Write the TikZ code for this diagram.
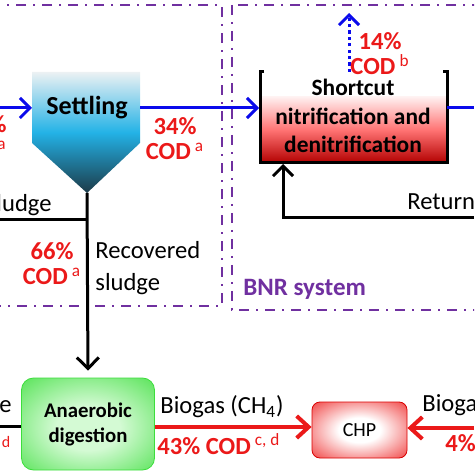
\documentclass[tikz,border=0pt]{standalone}
\usepackage{fontspec}
\setmainfont{Carlito}
\usetikzlibrary{arrows.meta,positioning}
\definecolor{violetbnr}{RGB}{112,48,160}
\definecolor{bleuflux}{RGB}{10,10,235}
\definecolor{rougecod}{RGB}{235,25,25}
\definecolor{vertad}{RGB}{60,222,60}
\definecolor{vertclair}{RGB}{212,250,212}
\definecolor{rougechp}{RGB}{238,38,38}
\definecolor{decantop}{RGB}{236,241,243}
\definecolor{decanmid}{RGB}{35,178,230}
\definecolor{decanbas}{RGB}{28,58,72}
\pgfdeclareradialshading{lueurvert}{\pgfpoint{0bp}{-3bp}}{color(0bp)=(vertclair); color(12bp)=(vertclair); color(42bp)=(vertad); color(50bp)=(vertad)}
\pgfdeclareradialshading{lueurrouge}{\pgfpoint{0bp}{0bp}}{color(0bp)=(white); color(11bp)=(white); color(40bp)=(rougechp); color(50bp)=(rougechp)}

\begin{document}
\begin{tikzpicture}[x=0.5pt,y=-0.5pt,
	flux/.style={bleuflux,line width=1.5pt,-{Straight Barb[length=5pt,width=10pt]}},
	boue/.style={black,line width=1.5pt},
	gaz/.style={rougecod,line width=2pt,-{Straight Barb[length=6pt,width=11pt]}},
	zone/.style={violetbnr,line width=1pt,dash pattern=on 5pt off 3.5pt on 1pt off 3.5pt},
	cod/.style={rougecod,font=\fontsize{12.3}{12.5}\selectfont\bfseries,align=center,inner sep=1pt},
	txt/.style={font=\fontsize{12.3}{16}\selectfont,align=left,inner sep=1pt}]
	\useasboundingbox (0,0) rectangle (474,474);
	\clip (0,0) rectangle (474,474);
	
	% zones
	\draw[zone] (-20,5) rectangle (222,306);
	\draw[zone] (232,5) rectangle (494,310);
	\node[violetbnr,font=\fontsize{12.5}{14}\selectfont\bfseries,anchor=west,inner sep=1pt] (bnr) at (241,289) {BNR system};
	
	% decanteur
	\shade[top color=decantop,bottom color=decanbas,middle color=decanmid]
	(32,72) -- (140,72) -- (140,143) -- (87,193) -- (32,143) -- cycle;
	\node[font=\fontsize{13}{15}\selectfont\bfseries] (settle) at (87,108) {Settling};
	\coordinate (settleW) at (32,108);
	\coordinate (settleE) at (140,108);
	\coordinate (settleS) at (87,193);
	
	% reacteur
	\shade[top color=red!6,bottom color=red!70!black,middle color=red!55] (260,97) rectangle (447,163);
	\draw[boue] (264,72) -- (260,72) -- (260,163) -- (447,163) -- (447,72) -- (443,72);
	\node[font=\fontsize{11.7}{14.25}\selectfont\bfseries,align=center] (tank) at (353,116)
	{Shortcut\\nitrification and\\denitrification};
	\coordinate (tankW) at (259,108);
	\coordinate (tankE) at (447,108);
	\coordinate (tankN) at (349,72);
	\coordinate (tankS) at (283,164);
	
	% digesteur et CHP
	\node[draw=vertad,shading=lueurvert,rounded corners=6pt,minimum width=66.5pt,minimum height=46pt,
	font=\fontsize{10.4}{12.5}\selectfont\bfseries,align=center] (digest) at (88,424) {Anaerobic\\digestion};
	\node[draw=red!85!black,line width=0.4pt,shading=lueurrouge,rounded corners=4pt,minimum width=47.5pt,
	minimum height=28pt,font=\fontsize{10}{11}\selectfont] (chp) at (359.5,430) {CHP};
	
	% bords
	\coordinate (inW) at (0,108);
	\coordinate (outE) at (474,108);
	\coordinate (ventN) at (349,13);
	\coordinate (retE) at (474,218);
	\coordinate (sludgeW) at (0,220);
	\coordinate (sludgeJ) at (87,220);
	\coordinate (boueW) at (0,426);
	\coordinate (gazE) at (474,428);
	
	% flux
	\draw[flux] (inW) -- (settleW);
	\draw[flux] (settleE) -- (tankW);
	\draw[bleuflux,line width=1.5pt] (tankE) -- (outE);
	\draw[flux,dash pattern=on 1.6pt off 1.6pt] (tankN) -- (ventN);
	\draw[boue,-{Straight Barb[length=5pt,width=10pt]}] (retE) -| (tankS);
	\draw[boue] (sludgeW) -- (sludgeJ);
	\draw[boue,shorten >=3.5pt,-{Straight Barb[length=5.5pt,width=11pt]}] (settleS) -- (digest.north);
	\draw[boue] (boueW) -- (boueW -| digest.west);
	\draw[gaz] ([yshift=-1.5pt]digest.east) -- ([yshift=-1.5pt]digest.east -| chp.west);
	\draw[gaz] (gazE) -- (gazE -| chp.east);
	
	% etiquettes
	\node[cod,align=right,anchor=east] (codin) at (9,137) {\%\\COD\,\textsuperscript{\mdseries a}};
	\node[cod] (cod34) at (175,139) {34\%\\COD\,\textsuperscript{\mdseries a}};
	\node[cod] (cod66) at (52,264) {66\%\\COD\,\textsuperscript{\mdseries a}};
	\node[cod] (cod14) at (380,54) {14\%\\COD\,\textsuperscript{\mdseries b}};
	\node[txt,anchor=east] (sludgeL) at (54,205) {Sludge};
	\node[txt,anchor=west] (recov) at (93,268) {Recovered\\sludge};
	\node[txt,anchor=west] (retour) at (405,202) {Return};
	\node[txt,anchor=east] (boueL) at (14,407) {e};
	\node[rougecod,font=\fontsize{8}{9}\selectfont,inner sep=1pt] (codL) at (6,442) {d};
	\node[txt,anchor=west] (biogas) at (158,407) {Biogas (CH\textsubscript{4})};
	\node[cod,anchor=west] (cod43) at (155,444) {43\% COD\,\textsuperscript{\mdseries c, d}};
	\node[txt,anchor=west] (biogasR) at (420,405) {Biogas};
	\node[cod,anchor=west] (cod4) at (443,443) {4\%};
\end{tikzpicture}
\end{document}
